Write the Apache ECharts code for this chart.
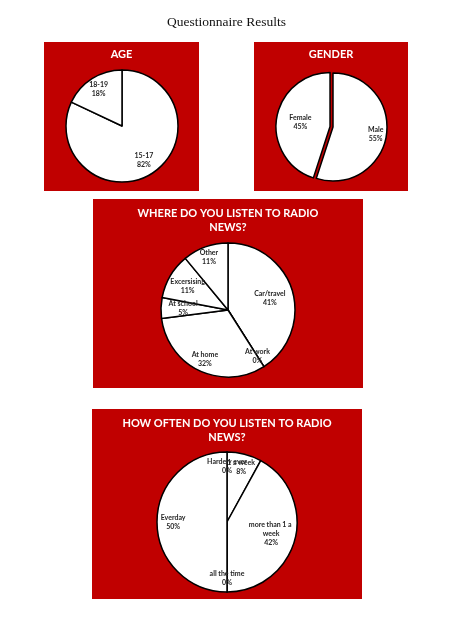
<!DOCTYPE html>
<html>
<head>
<meta charset="utf-8">
<script src="https://cdn.jsdelivr.net/npm/echarts@6/dist/echarts.min.js"></script>
<style>
html,body{margin:0;padding:0;background:#fff;}
#c{width:453px;height:640px;}
</style>
</head>
<body>
<div id="c"></div>
<script>
// ---- data ----
const mainTitle = 'Questionnaire Results';

const ageTitle = 'AGE';
const ageNames = ['15-17', '18-19'];
const ageValues = [82, 18];

const genderTitle = 'GENDER';
const genderNames = ['Male', 'Female'];
const genderValues = [55, 45];

const whereTitle = 'WHERE DO YOU LISTEN TO RADIO\nNEWS?';
const whereNames = ['Car/travel', 'At work', 'At home', 'At school', 'Excersising', 'Other'];
const whereValues = [41, 0, 32, 5, 11, 11];

const howTitle = 'HOW OFTEN DO YOU LISTEN TO RADIO\nNEWS?';
const howNames = ['Hardely ever', '1 a week', 'more than 1 a week', 'all the time', 'Everday'];
const howValues = [0, 8, 42, 0, 50];

// ---- styles / layout ----
const RED = '#C00000';
const panels = [
  {x: 44, y: 42, w: 155, h: 149},
  {x: 254, y: 42, w: 154, h: 149},
  {x: 93, y: 199, w: 270, h: 189},
  {x: 92, y: 409, w: 270, h: 190}
];
// label distance from centre as a fraction of the radius (style, per slice)
const pies = [
  {names: ageNames, values: ageValues, cx: 122, cy: 126, r: 56, title: ageTitle, ty: 47,
   lr: [0.73, 0.78]},
  {names: genderNames, values: genderValues, cx: 333, cy: 127, r: 54, title: genderTitle, ty: 47,
   lr: [0.8, 0.75], explode: 'Female'},
  {names: whereNames, values: whereValues, cx: 228, cy: 310, r: 67, title: whereTitle, ty: 206,
   lr: [0.65, 0.82, 0.81, 0.67, 0.7, 0.84]},
  {names: howNames, values: howValues, cx: 227, cy: 522, r: 70, title: howTitle, ty: 416,
   lr: [0.8, 0.81, 0.65, 0.8, 0.77]}
];

const labelStyle = {
  show: true,
  position: 'inside',
  formatter: '{b}\n{c}%',
  color: '#262626',
  fontFamily: 'Lato',
  fontWeight: 'bold',
  fontSize: 7,
  lineHeight: 9,
  width: 50,
  overflow: 'break',
  align: 'center'
};

const series = [];
const titles = [{
  text: mainTitle, left: 'center', top: 15, padding: 0,
  textStyle: {fontFamily: 'Liberation Serif', fontWeight: 'normal', fontSize: 13.5, color: '#111'}
}];

pies.forEach((p, i) => {
  const pan = panels[i];
  titles.push({
    text: p.title,
    left: pan.x + pan.w / 2, top: p.ty, textAlign: 'center', padding: 0,
    textStyle: {fontFamily: 'Lato', fontWeight: 'bold', fontSize: 11, color: '#fff', lineHeight: 14}
  });
  const data = p.names.map((n, k) => ({
    name: n, value: p.values[k], selected: p.explode === n
  }));
  series.push({
    type: 'pie',
    center: [p.cx, p.cy],
    radius: [0, p.r],
    startAngle: 90,
    clockwise: true,
    selectedMode: p.explode ? 'single' : false,
    selectedOffset: 3,
    silent: true,
    animation: false,
    avoidLabelOverlap: false,
    minShowLabelAngle: -1,
    label: labelStyle,
    labelLine: {show: false},
    labelLayout: function (params) {
      const rc = params.labelRect;
      const lx = rc.x + rc.width / 2, ly = rc.y + rc.height / 2;
      let dx = lx - p.cx, dy = ly - p.cy;
      const d = Math.sqrt(dx * dx + dy * dy) || 1;
      const f = p.lr[params.dataIndex] * p.r;
      return {x: p.cx + dx / d * f, y: p.cy + dy / d * f, align: 'center', verticalAlign: 'middle'};
    },
    itemStyle: {color: '#fff', borderColor: '#000', borderWidth: 1.5},
    emphasis: {disabled: true},
    data: data
  });
});

const chart = echarts.init(document.getElementById('c'), null, {renderer: 'canvas'});
chart.setOption({
  backgroundColor: '#fff',
  animation: false,
  title: titles,
  graphic: panels.map(pan => ({
    type: 'rect', silent: true, z: -10,
    shape: {x: pan.x, y: pan.y, width: pan.w, height: pan.h},
    style: {fill: RED}
  })),
  series: series
});
</script>
</body>
</html>
